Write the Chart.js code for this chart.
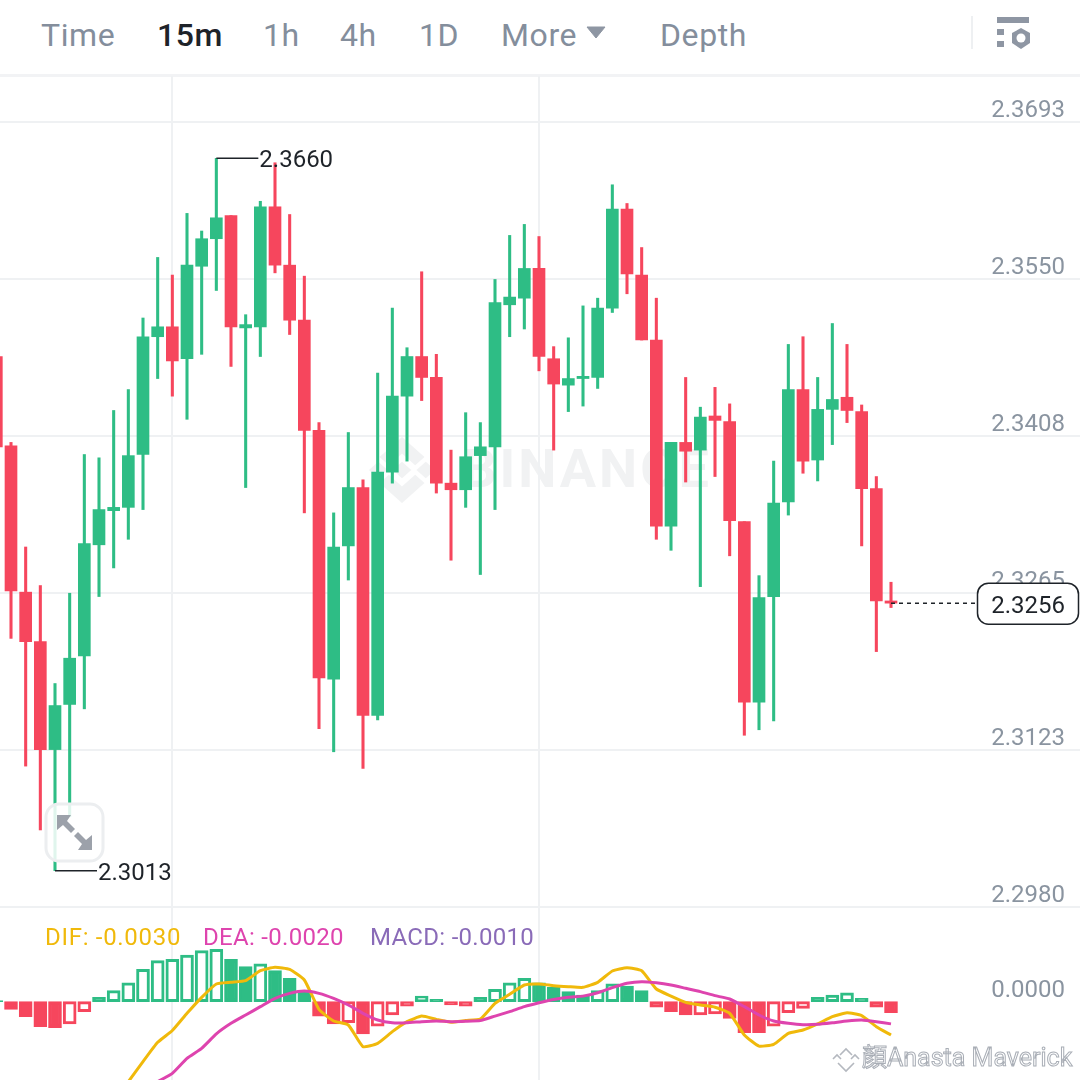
<!DOCTYPE html>
<html>
<head>
<meta charset="utf-8">
<title>15m candles</title>
<script src="https://cdn.jsdelivr.net/npm/chart.js@4"></script>
<style>
  html, body { margin: 0; padding: 0; background: #fff; }
  body { position: relative; width: 1080px; height: 1080px; overflow: hidden; font-family: Roboto, sans-serif; }
  .abs { position: absolute; }
  .tab { position: absolute; top: 14px; font-size: 32px; line-height: 42px; color: #848E9C; letter-spacing: 0.6px; white-space: nowrap; }
  .tab.on { color: #1E2329; font-weight: 500; }
  .leg { position: absolute; top: 922px; font-size: 24px; line-height: 30px; white-space: nowrap; letter-spacing: 0.3px; }
  #priceCanvas, #macdCanvas { position: absolute; left: 0; }
  #wrapPrice { position: absolute; left: 0; top: 76px; width: 1080px; height: 834px; }
  #wrapMacd { position: absolute; left: 0; top: 910px; width: 1080px; height: 170px; }
  #mark { position: absolute; left: 462px; top: 439px; font-size: 54px; line-height: 60px; font-weight: 700; color: #F1F2F3; letter-spacing: 3px; }
  #credit { position: absolute; left: 862px; top: 1043px; font-size: 25px; line-height: 30px; color: #fff; -webkit-text-stroke: 1px #A9AEB6; white-space: nowrap; font-family: Roboto, "Noto Sans CJK TC", sans-serif; }
</style>
</head>
<body>

<div class="abs" style="left:0;top:74px;width:1080px;height:3px;background:#F2F3F5"></div>
<div class="tab" style="left:41px">Time</div>
<div class="tab on" style="left:157px">15m</div>
<div class="tab" style="left:263px">1h</div>
<div class="tab" style="left:340px">4h</div>
<div class="tab" style="left:419px">1D</div>
<div class="tab" style="left:501px">More</div>
<svg class="abs" style="left:586px;top:26px" width="20" height="13"><path d="M1 1 H19 L10 12 Z" fill="#8E96A3" stroke="#8E96A3" stroke-linejoin="round"/></svg>
<div class="tab" style="left:660px">Depth</div>
<div class="abs" style="left:971px;top:16px;width:2px;height:33px;background:#EEF0F2"></div>
<svg class="abs" style="left:995px;top:15px" width="38" height="36">
  <rect x="2" y="2" width="32" height="6" fill="#8E96A3"/>
  <rect x="2" y="14" width="7" height="6" fill="#8E96A3"/>
  <rect x="2" y="26" width="7" height="6" fill="#8E96A3"/>
  <path d="M26 13 L35 18 V28 L26 34 L17 28 V18 Z" fill="#8E96A3"/>
  <circle cx="26" cy="23" r="4.5" fill="#fff"/>
</svg>

<svg class="abs" style="left:369px;top:437px" width="66" height="66" viewBox="1 6 50 56" preserveAspectRatio="none">
  <path d="M26 6 L43 23 L36 30 L26 20 L16 30 L9 23 Z M8 27 L15 34 L8 41 L1 34 Z M44 27 L51 34 L44 41 L37 34 Z M26 27 L33 34 L26 41 L19 34 Z M16 38 L26 48 L36 38 L43 45 L26 62 L9 45 Z" fill="#F1F2F3"/>
</svg>
<div id="mark">BINANCE</div>

<div id="wrapPrice"><canvas id="priceCanvas" width="1080" height="834"></canvas></div>
<div id="wrapMacd"><canvas id="macdCanvas" width="1080" height="170"></canvas></div>

<div class="leg" style="left:45px;color:#F0B90B;letter-spacing:0.7px">DIF: -0.0030</div>
<div class="leg" style="left:203px;color:#DE44AE">DEA: -0.0020</div>
<div class="leg" style="left:370px;color:#8A6BB8">MACD: -0.0010</div>

<svg class="abs" style="left:43px;top:801px" width="63" height="63">
  <rect x="3" y="3" width="57" height="57" rx="13" fill="rgba(255,255,255,0.85)" stroke="#ECEEF0" stroke-width="3"/>
  <path d="M14 14 H28 L24 20 L32 28 L28 32 L20 24 L14 29 Z M49 49 H35 L39 43 L31 35 L35 31 L43 39 L49 34 Z" fill="#9CA1AA"/>
</svg>

<svg class="abs" style="left:831px;top:1047px" width="30" height="26">
  <path d="M9 8 L15 2 L21 8 M2 12 L6 8 L10 12 M20 12 L24 8 L28 12 M7 16 L15 24 L23 16" fill="none" stroke="#B4B8BF" stroke-width="1.6"/>
</svg>
<div id="credit">顏Anasta Maverick</div>

<script>
  // candles
  var opens = [
    2.3480, 2.3399, 2.3266, 2.3221, 2.3123, 2.3164, 2.3208, 2.3309, 2.3340, 2.3343, 2.3391, 2.3498, 2.3507, 2.3478, 2.3562, 2.3587,
    2.3608, 2.3506, 2.3507, 2.3616, 2.3563, 2.3513, 2.3413, 2.3187, 2.3308, 2.3361, 2.3154, 2.3375, 2.3444, 2.3480, 2.3461, 2.3365,
    2.3359, 2.3390, 2.3398, 2.3527, 2.3533, 2.3560, 2.3478, 2.3454, 2.3460, 2.3461, 2.3524, 2.3614, 2.3554, 2.3495, 2.3326, 2.3402,
    2.3395, 2.3426, 2.3421, 2.3330, 2.3166, 2.3262, 2.3348, 2.3450, 2.3386, 2.3432, 2.3443, 2.3430, 2.3360, 2.3258
  ];
  var highs = [
    2.3480, 2.3402, 2.3307, 2.3272, 2.3183, 2.3265, 2.3391, 2.3388, 2.3431, 2.3450, 2.3515, 2.3570, 2.3554, 2.3610, 2.3594, 2.3660,
    2.3608, 2.3518, 2.3621, 2.3656, 2.3609, 2.3553, 2.3420, 2.3338, 2.3411, 2.3368, 2.3465, 2.3524, 2.3488, 2.3557, 2.3482, 2.3395,
    2.3429, 2.3420, 2.3550, 2.3590, 2.3600, 2.3589, 2.3489, 2.3497, 2.3526, 2.3533, 2.3636, 2.3619, 2.3579, 2.3533, 2.3402, 2.3461,
    2.3434, 2.3452, 2.3437, 2.3330, 2.3281, 2.3385, 2.3491, 2.3498, 2.3461, 2.3510, 2.3491, 2.3436, 2.3371, 2.3275
  ];
  var lows = [
    2.3398, 2.3224, 2.3108, 2.3050, 2.3013, 2.3062, 2.3160, 2.3262, 2.3288, 2.3314, 2.3341, 2.3460, 2.3444, 2.3423, 2.3482, 2.3540,
    2.3471, 2.3361, 2.3480, 2.3556, 2.3500, 2.3338, 2.3142, 2.3121, 2.3277, 2.3106, 2.3150, 2.3365, 2.3385, 2.3440, 2.3356, 2.3295,
    2.3343, 2.3282, 2.3341, 2.3498, 2.3505, 2.3467, 2.3395, 2.3430, 2.3435, 2.3451, 2.3520, 2.3537, 2.3495, 2.3314, 2.3304, 2.3366,
    2.3271, 2.3371, 2.3299, 2.3136, 2.3141, 2.3149, 2.3336, 2.3374, 2.3367, 2.3400, 2.3420, 2.3308, 2.3212, 2.3252
  ];
  var closes = [
    2.3398, 2.3267, 2.3221, 2.3123, 2.3163, 2.3206, 2.3310, 2.3341, 2.3343, 2.3390, 2.3498, 2.3507, 2.3476, 2.3563, 2.3587, 2.3606,
    2.3507, 2.3509, 2.3616, 2.3563, 2.3513, 2.3413, 2.3188, 2.3307, 2.3361, 2.3154, 2.3375, 2.3444, 2.3480, 2.3461, 2.3365, 2.3359,
    2.3389, 2.3398, 2.3529, 2.3534, 2.3560, 2.3480, 2.3455, 2.3460, 2.3462, 2.3524, 2.3614, 2.3555, 2.3495, 2.3326, 2.3402, 2.3394,
    2.3425, 2.3422, 2.3331, 2.3166, 2.3261, 2.3347, 2.3450, 2.3385, 2.3432, 2.3441, 2.3431, 2.3360, 2.3258, 2.3256
  ];
  var priceTicks = [2.3693, 2.3550, 2.3408, 2.3265, 2.3123, 2.2980];
  var lastPrice = 2.3256;
  var gridCandles = [12, 37];

  // MACD panel
  var macdBars = [
    0.0001, -0.0007, -0.00135, -0.00225, -0.00234, -0.0020, -0.0009, 0.0004, 0.0010, 0.0017, 0.0029, 0.0037, 0.0038, 0.0042, 0.0046, 0.0047,
    0.0038, 0.00315, 0.0034, 0.0028, 0.0021, 0.0009, -0.0013, -0.0020, -0.0019, -0.0029, -0.0022, -0.0012, -0.0004, 0.0005, 0.0002, -0.0003,
    -0.0004, 0.0004, 0.0011, 0.0017, 0.0021, 0.0017, 0.0013, 0.0009, 0.0006, 0.0010, 0.0016, 0.0014, 0.0010, -0.0005, -0.0009, -0.0012,
    -0.0012, -0.0011, -0.0015, -0.0028, -0.0028, -0.0022, -0.0010, -0.0006, 0.0004, 0.0006, 0.0008, 0.0003, -0.0005, -0.0010
  ];
  var hollowBars = [5, 6, 8, 9, 10, 11, 12, 13, 14, 15, 18, 24, 26, 27, 29, 34, 35, 36, 41, 42, 48, 49, 53, 54, 55, 57, 58];
  var difLine = [
    null, null, null, null, null, null, null, null, -0.0090, -0.0072, -0.0054, -0.00366, -0.0026, -0.00105, 0.00039, 0.00159,
    0.00174, 0.00189, 0.00279, 0.00309, 0.0029, 0.00195, -0.0007, -0.00174, -0.0021, -0.00405, -0.00375, -0.0027, -0.0018, -0.0013, -0.0016, -0.00186,
    -0.0017, -0.00156, -0.00015, 0.00066, 0.0015, 0.00159, 0.00144, 0.00135, 0.00129, 0.00174, 0.00276, 0.00306, 0.00279, 0.00114, 0.0005, -0.00006,
    -0.0003, -0.0005, -0.00105, -0.0030, -0.0040, -0.00384, -0.00285, -0.00255, -0.0020, -0.00135, -0.0010, -0.00126, -0.00225, -0.0030
  ];
  var deaLine = [
    null, null, null, null, null, null, null, null, null, null, -0.0080, -0.0072, -0.00645, -0.0051, -0.0042, -0.0029,
    -0.00195, -0.0012, -0.00045, 0.0003, 0.00075, 0.00096, 0.00075, 0.0003, -0.0003, -0.00105, -0.00165, -0.0019, -0.0019, -0.0018, -0.00174, -0.0018,
    -0.00177, -0.0017, -0.0013, -0.0009, -0.00045, -0.0001, 0.0002, 0.0004, 0.0005, 0.0008, 0.00126, 0.00165, 0.0018, 0.0017, 0.0015, 0.0012,
    0.0009, 0.00054, 0.00024, -0.00045, -0.0012, -0.00174, -0.00195, -0.00207, -0.00204, -0.0019, -0.00174, -0.00165, -0.0018, -0.0020
  ];

  var GREEN = '#2EBD85';
  var RED = '#F6465D';
  var GRID = '#EFF1F3';
  var INK = '#1E2329';
  var TICK = '#8A94A0';
  var NUM_FONT = '24px Roboto, sans-serif';

  // one candle every 14.667px, first one just off the left edge
  var X_MIN = 0.25;
  var X_MAX = 73.886;

  function xAxis() {
    return {
      type: 'linear',
      min: X_MIN,
      max: X_MAX,
      offset: false,
      afterBuildTicks: function (axis) {
        axis.ticks = gridCandles.map(function (v) { return { value: v }; });
      },
      ticks: { display: false },
      grid: { color: GRID, lineWidth: 2, drawTicks: false, offset: false },
      border: { display: false }
    };
  }

  // mirrored labels sit over the plot, so the axis must not eat any of the canvas
  function noAxisRoom(axis) {
    axis.width = 0;
    axis.paddingTop = 0;
    axis.paddingBottom = 0;
  }

  function candleColor(ctx) {
    var i = ctx.dataIndex;
    return closes[i] >= opens[i] ? GREEN : RED;
  }

  var extremeLabels = {
    id: 'extremeLabels',
    afterDatasetsDraw: function (chart) {
      var c = chart.ctx;
      var xs = chart.scales.x;
      var ys = chart.scales.y;
      var hi = Math.max.apply(null, highs);
      var lo = Math.min.apply(null, lows);
      c.save();
      c.font = NUM_FONT;
      c.textBaseline = 'middle';
      c.strokeStyle = INK;
      c.lineWidth = 1.5;
      [[hi, highs.indexOf(hi)], [lo, lows.indexOf(lo)]].forEach(function (e) {
        var x = xs.getPixelForValue(e[1]);
        var y = ys.getPixelForValue(e[0]);
        c.beginPath();
        c.moveTo(x, y);
        c.lineTo(x + 42, y);
        c.stroke();
        c.fillStyle = INK;
        c.textAlign = 'left';
        c.fillText(e[0].toFixed(4), x + 43, y + 3);
      });

      // last price: dashed leader and boxed label
      var lx = xs.getPixelForValue(closes.length - 1);
      var ly = ys.getPixelForValue(lastPrice);
      c.setLineDash([4, 4]);
      c.beginPath();
      c.moveTo(lx, ly);
      c.lineTo(977, ly);
      c.stroke();
      c.setLineDash([]);
      c.beginPath();
      c.roundRect(977.5, ly - 20, 101, 41, 11);
      c.fillStyle = '#fff';
      c.fill();
      c.stroke();
      c.fillStyle = INK;
      c.textAlign = 'right';
      c.fillText(lastPrice.toFixed(4), 1065, ly + 4);
      c.restore();
    }
  };

  new Chart(document.getElementById('priceCanvas'), {
    type: 'bar',
    data: {
      datasets: [
        {
          label: 'wick',
          data: highs.map(function (h, i) { return { x: i, y: [lows[i], h] }; }),
          backgroundColor: candleColor,
          barThickness: 2.4,
          grouped: false,
          order: 2
        },
        {
          label: 'body',
          data: opens.map(function (o, i) { return { x: i, y: [closes[i], o] }; }),
          backgroundColor: candleColor,
          barThickness: 12,
          grouped: false,
          minBarLength: 2,
          order: 1
        }
      ]
    },
    options: {
      responsive: false,
      animation: false,
      layout: { padding: 0 },
      plugins: { legend: { display: false }, tooltip: { enabled: false } },
      scales: {
        x: xAxis(),
        y: {
          position: 'right',
          min: 2.29773,
          max: 2.37348,
          afterBuildTicks: function (axis) {
            axis.ticks = priceTicks.map(function (v) { return { value: v }; });
          },
          afterFit: noAxisRoom,
          ticks: {
            mirror: true,
            padding: -15,
            labelOffset: -11,
            color: TICK,
            font: { family: 'Roboto, sans-serif', size: 24 },
            callback: function (v) { return Number(v).toFixed(4); }
          },
          grid: { color: GRID, lineWidth: 2, drawTicks: false },
          border: { display: false }
        }
      }
    },
    plugins: [extremeLabels]
  });

  function macdColor(ctx) {
    return macdBars[ctx.dataIndex] >= 0 ? GREEN : RED;
  }

  function macdFill(ctx) {
    return hollowBars.indexOf(ctx.dataIndex) >= 0 ? '#fff' : macdColor(ctx);
  }

  function linePoints(arr) {
    return arr.map(function (v, i) { return { x: i, y: v }; });
  }

  new Chart(document.getElementById('macdCanvas'), {
    type: 'bar',
    data: {
      datasets: [
        {
          type: 'line',
          label: 'DEA',
          data: linePoints(deaLine),
          borderColor: '#DE44AE',
          borderWidth: 3,
          pointRadius: 0,
          tension: 0.15,
          order: 1
        },
        {
          type: 'line',
          label: 'DIF',
          data: linePoints(difLine),
          borderColor: '#F0B90B',
          borderWidth: 3,
          pointRadius: 0,
          tension: 0.15,
          order: 2
        },
        {
          label: 'MACD',
          data: macdBars.map(function (v, i) { return { x: i, y: v }; }),
          backgroundColor: macdFill,
          borderColor: macdColor,
          borderWidth: 3,
          borderSkipped: false,
          barThickness: 13,
          order: 3
        }
      ]
    },
    options: {
      responsive: false,
      animation: false,
      layout: { padding: 0 },
      plugins: { legend: { display: false }, tooltip: { enabled: false } },
      scales: {
        x: xAxis(),
        y: {
          position: 'right',
          min: -0.00705,
          max: 0.00825,
          afterBuildTicks: function (axis) {
            axis.ticks = [{ value: 0 }];
          },
          afterFit: noAxisRoom,
          ticks: {
            mirror: true,
            padding: -15,
            labelOffset: -11,
            color: TICK,
            font: { family: 'Roboto, sans-serif', size: 24 },
            callback: function (v) { return Number(v).toFixed(4); }
          },
          grid: { display: false },
          border: { display: false }
        }
      }
    }
  });
</script>
</body>
</html>
